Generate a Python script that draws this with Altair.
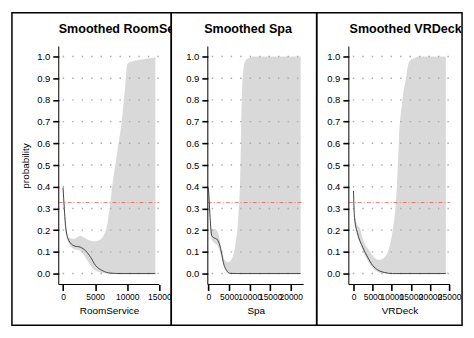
import altair as alt
import pandas as pd

# ---------------- data ----------------
titles = ["Smoothed RoomService", "Smoothed Spa", "Smoothed VRDeck"]
x_titles = ["RoomService", "Spa", "VRDeck"]
y_title = "probability"
y_ticks = [0.0, 0.1, 0.2, 0.3, 0.4, 0.5, 0.6, 0.7, 0.8, 0.9, 1.0]
x_ticks_rs = [0, 5000, 10000, 15000]
x_ticks_spa = [0, 5000, 10000, 15000, 20000]
x_ticks_vr = [0, 5000, 10000, 15000, 20000, 25000]
base_rate = 0.327

rs_line_x = [0, 200, 420, 930, 1700, 2750, 3520, 4300, 5070, 6110, 7400, 9000, 14380]
rs_line_p = [0.396, 0.30, 0.212, 0.151, 0.128, 0.121, 0.105, 0.075, 0.037, 0.014, 0.002, 0.0, 0.0]
rs_band_x = [0, 400, 900, 1700, 2700, 3300, 4300, 4800, 5500, 6100, 6900, 7400, 7700, 8400,
             9200, 9700, 10000, 10300, 12000, 14380]
rs_band_hi = [0.41, 0.24, 0.165, 0.16, 0.174, 0.165, 0.151, 0.148, 0.152, 0.164, 0.228, 0.335,
              0.41, 0.55, 0.717, 0.87, 0.962, 0.972, 0.985, 0.995]
rs_band_lo = [0.38, 0.19, 0.14, 0.113, 0.105, 0.083, 0.037, 0.02, 0.008, 0.003, 0.001, 0, 0, 0,
              0, 0, 0, 0, 0, 0]

spa_line_x = [0, 200, 410, 820, 1380, 2030, 2660, 3240, 3620, 4450, 5240, 7000, 22400]
spa_line_p = [0.393, 0.33, 0.258, 0.174, 0.164, 0.159, 0.136, 0.09, 0.052, 0.014, 0.001, 0.0, 0.0]
spa_band_x = [0, 300, 580, 1500, 2000, 2420, 3240, 4040, 4840, 5650, 6460, 7250, 7660, 7900,
              8220, 8870, 9670, 11000, 22400]
spa_band_hi = [0.40, 0.32, 0.205, 0.205, 0.20, 0.182, 0.105, 0.06, 0.052, 0.067, 0.121, 0.258,
               0.41, 0.60, 0.87, 0.977, 0.992, 1.0, 1.0]
spa_band_lo = [0.385, 0.27, 0.17, 0.14, 0.135, 0.12, 0.07, 0.015, 0.002, 0, 0, 0, 0, 0, 0, 0,
               0, 0, 0]

vr_line_x = [0, 260, 1120, 2420, 3720, 5030, 6330, 8070, 10230, 24140]
vr_line_p = [0.381, 0.258, 0.182, 0.121, 0.075, 0.037, 0.017, 0.005, 0.0, 0.0]
vr_band_x = [0, 260, 1120, 1560, 2420, 4170, 5900, 6770, 8070, 9370, 10230, 11110, 11540, 11900,
             12760, 13720, 14580, 15880, 17000, 24140]
vr_band_hi = [0.39, 0.28, 0.22, 0.212, 0.159, 0.105, 0.067, 0.063, 0.075, 0.121, 0.197, 0.335,
              0.47, 0.62, 0.794, 0.90, 0.977, 0.992, 1.0, 1.0]
vr_band_lo = [0.37, 0.24, 0.165, 0.145, 0.105, 0.045, 0.012, 0.005, 0.001, 0, 0, 0, 0, 0, 0, 0,
              0, 0, 0, 0]

# ---------------- layout (pixels inside each panel) ----------------
FONT = "Liberation Sans"
PANEL_H = 314
panel_w = [160, 146, 146]
first_tick_px = [51.3, 37.3, 37.0]
last_tick_px = [148.0, 120.0, 133.0]
yaxis_px = [47.0, 36.7, 32.3]
box_right_px = [148.0, 133.0, 134.0]
p0_px, p1_px = 262.0, 44.0
xaxis_px = 273.0
box_top_px = 34.0
title_left_px = [47.0, 33.0, 33.0]
title_y_px = 16.0

per_y = 1.0 / (p0_px - p1_px)
ymax = 1.0 + p1_px * per_y
ymin = -(PANEL_H - p0_px) * per_y


def py_to_p(py):
    return ymax - py * per_y


def make_panel(i, ticks, lx, lp, bx, blo, bhi):
    W = panel_w[i]
    per_x = (ticks[-1] - ticks[0]) / (last_tick_px[i] - first_tick_px[i])
    xmin = ticks[0] - first_tick_px[i] * per_x
    xmax = xmin + W * per_x

    def px_x(px):
        return xmin + px * per_x

    xs = alt.Scale(domain=[xmin, xmax], nice=False, zero=False)
    ys = alt.Scale(domain=[ymin, ymax], nice=False, zero=False)
    x_left = px_x(yaxis_px[i])
    x_right = px_x(box_right_px[i])
    p_bot = py_to_p(xaxis_px)
    p_top = py_to_p(box_top_px)

    xaxis = alt.Axis(values=ticks, format="d", offset=-(PANEL_H - xaxis_px), domain=False,
                     grid=False, tickSize=6, tickWidth=1.6, tickColor="black",
                     labelFontSize=8.5, labelColor="black", labelPadding=2,
                     labelOverlap=False, labelFlush=False, labelFont=FONT,
                     title=x_titles[i], titleFontSize=10, titleFontWeight="normal",
                     titleColor="black", titlePadding=5, titleFont=FONT,
                     titleX=(yaxis_px[i] + box_right_px[i]) / 2, zindex=1)
    ykw = dict(values=y_ticks, format=".1f", offset=-yaxis_px[i], domain=False, grid=False,
               tickSize=6, tickWidth=1.6, tickColor="black", labelFontSize=9.5,
               labelColor="black", labelPadding=3, labelFont=FONT, labelFlush=False, zindex=1)
    if i == 0:
        ykw.update(title=y_title, titleFontSize=10, titleFontWeight="normal",
                   titleColor="black", titlePadding=6, titleFont=FONT,
                   titleY=(box_top_px + xaxis_px) / 2)
    else:
        ykw.update(title=None)
    yaxis = alt.Axis(**ykw)

    X = lambda f: alt.X(f, scale=xs, axis=xaxis)
    Y = lambda f: alt.Y(f, scale=ys, axis=yaxis)

    band = alt.Chart(pd.DataFrame({"x": bx, "lo": blo, "hi": bhi})).mark_area(
        color="#d9d9d9", interpolate="monotone"
    ).encode(x=X("x:Q"), y=Y("lo:Q"), y2="hi:Q")

    grid = alt.Chart(pd.DataFrame({"gy": y_ticks, "gx0": [px_x(yaxis_px[i] + 4)] * len(y_ticks),
                                   "gx1": [x_right] * len(y_ticks)})).mark_rule(
        color="#a8a8a8", strokeWidth=1.4, strokeDash=[1.4, 8.1]
    ).encode(x=X("gx0:Q"), x2="gx1:Q", y=Y("gy:Q"))

    ref = alt.Chart(pd.DataFrame({"p": [base_rate], "x0": [x_left], "x1": [x_right]})).mark_rule(
        color="#e8403c", strokeWidth=0.9, opacity=0.75, strokeDash=[4, 2, 1, 2]
    ).encode(x=X("x0:Q"), x2="x1:Q", y=Y("p:Q"))

    frame = alt.Chart(pd.DataFrame({"x0": [x_left, x_left], "x1": [x_left, x_right],
                                    "y0": [p_bot, p_bot], "y1": [p_top, p_bot]})).mark_rule(
        color="black", strokeWidth=1
    ).encode(x=X("x0:Q"), x2="x1:Q", y=Y("y0:Q"), y2="y1:Q")

    line = alt.Chart(pd.DataFrame({"x": lx, "p": lp})).mark_line(
        color="#444444", strokeWidth=1, interpolate="monotone"
    ).encode(x=X("x:Q"), y=Y("p:Q"))

    title = alt.Chart(pd.DataFrame({"t": [titles[i]]})).mark_text(
        align="left", baseline="middle", fontWeight="bold", fontSize=12.6, font=FONT,
        color="black", clip=True
    ).encode(text="t:N", x=alt.value(title_left_px[i]), y=alt.value(title_y_px))

    return alt.layer(band, grid, ref, frame, line, title).properties(width=W, height=PANEL_H)


p1 = make_panel(0, x_ticks_rs, rs_line_x, rs_line_p, rs_band_x, rs_band_lo, rs_band_hi)
p2 = make_panel(1, x_ticks_spa, spa_line_x, spa_line_p, spa_band_x, spa_band_lo, spa_band_hi)
p3 = make_panel(2, x_ticks_vr, vr_line_x, vr_line_p, vr_band_x, vr_band_lo, vr_band_hi)

chart = alt.hconcat(p1, p2, p3, spacing=0, bounds="flush").properties(
    padding={"left": 11, "top": 11, "right": 11, "bottom": 13},
    background="white",
).configure_view(stroke="black", strokeWidth=1.5)

chart.save("out.html", embed_options={"renderer": "svg", "actions": False})
